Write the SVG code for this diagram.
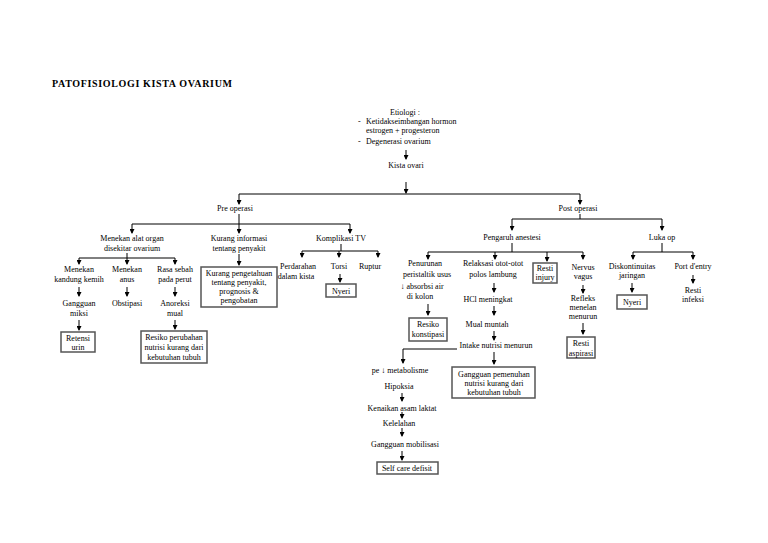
<svg xmlns="http://www.w3.org/2000/svg" width="768" height="543" viewBox="0 0 768 543">
<defs>
<marker id="ah" markerWidth="5" markerHeight="5" refX="4" refY="2.5" orient="auto" markerUnits="userSpaceOnUse"><path d="M0,0 L5,2.5 L0,5 z" fill="#000"/></marker>
<style>
text{font-family:"Liberation Serif","Times New Roman",serif;font-size:8px;fill:#000;text-anchor:middle}
.l{text-anchor:start}
.title{font-size:10px;font-weight:bold;text-anchor:start}
.box{fill:#fff;stroke:#555;stroke-width:1.5}
.c line,.c polyline{stroke:#000;stroke-width:1;fill:none}
.a{marker-end:url(#ah)}
</style>
</defs>
<rect width="768" height="543" fill="#fff"/>
<text class="title" x="52" y="87" textLength="180">PATOFISIOLOGI KISTA OVARIUM</text>

<g class="c" id="connectors">
<line class="a" x1="406" y1="150" x2="406" y2="159"/>
<line class="a" x1="406" y1="182" x2="406" y2="193"/>
<line x1="239" y1="194" x2="580" y2="194"/>
<line class="a" x1="239" y1="194" x2="239" y2="204"/>
<line class="a" x1="580" y1="194" x2="580" y2="204"/>
<line x1="239" y1="214" x2="239" y2="224"/>
<line x1="132" y1="224" x2="350" y2="224"/>
<line class="a" x1="132" y1="224" x2="132" y2="233"/>
<line class="a" x1="239" y1="224" x2="239" y2="233"/>
<line class="a" x1="350" y1="224" x2="350" y2="233"/>
<line x1="127" y1="253" x2="127" y2="258"/>
<line x1="79" y1="258" x2="175" y2="258"/>
<line class="a" x1="79" y1="258" x2="79" y2="264"/>
<line class="a" x1="127" y1="258" x2="127" y2="264"/>
<line class="a" x1="175" y1="258" x2="175" y2="264"/>
<line class="a" x1="79" y1="287" x2="79" y2="296"/>
<line class="a" x1="127" y1="287" x2="127" y2="296"/>
<line class="a" x1="175" y1="287" x2="175" y2="296"/>
<line class="a" x1="79" y1="320" x2="79" y2="330"/>
<line class="a" x1="175" y1="320" x2="175" y2="329"/>
<line class="a" x1="239" y1="254" x2="239" y2="265"/>
<line x1="341" y1="244" x2="341" y2="251"/>
<line x1="302" y1="251" x2="378" y2="251"/>
<line class="a" x1="302" y1="251" x2="302" y2="257"/>
<line class="a" x1="339" y1="251" x2="339" y2="257"/>
<line class="a" x1="378" y1="251" x2="378" y2="257"/>
<line class="a" x1="340" y1="274" x2="340" y2="282"/>
<line x1="580" y1="214" x2="580" y2="219"/>
<line x1="512" y1="219" x2="662" y2="219"/>
<line class="a" x1="512" y1="219" x2="512" y2="230"/>
<line class="a" x1="662" y1="219" x2="662" y2="230"/>
<line x1="512" y1="243" x2="512" y2="252"/>
<line x1="428" y1="252" x2="583" y2="252"/>
<line class="a" x1="428" y1="252" x2="428" y2="259"/>
<line class="a" x1="495" y1="252" x2="495" y2="259"/>
<line class="a" x1="547" y1="252" x2="547" y2="261"/>
<line class="a" x1="583" y1="252" x2="583" y2="259"/>
<line x1="662" y1="243" x2="662" y2="252"/>
<line x1="633" y1="252" x2="693" y2="252"/>
<line class="a" x1="633" y1="252" x2="633" y2="259"/>
<line class="a" x1="693" y1="252" x2="693" y2="259"/>
<line class="a" x1="428" y1="304" x2="428" y2="315"/>
<line class="a" x1="494" y1="283" x2="494" y2="292"/>
<line class="a" x1="494" y1="306" x2="494" y2="315"/>
<line class="a" x1="494" y1="331" x2="494" y2="340"/>
<polyline class="a" points="457,349 403,349 403,363"/>
<line class="a" x1="494" y1="352" x2="494" y2="364"/>
<line class="a" x1="402" y1="393" x2="402" y2="401"/>
<line class="a" x1="402" y1="412" x2="402" y2="418"/>
<line class="a" x1="402" y1="428" x2="402" y2="436"/>
<line class="a" x1="402" y1="451" x2="402" y2="460"/>
<line class="a" x1="583" y1="285" x2="583" y2="293"/>
<line class="a" x1="583" y1="323" x2="583" y2="334"/>
<line class="a" x1="632" y1="283" x2="632" y2="292"/>
<line class="a" x1="693" y1="275" x2="693" y2="283"/>
</g>

<g id="etiologi">
<text x="405" y="115">Etiologi :</text>
<text class="l" x="358" y="124">-</text><text class="l" x="366" y="124">Ketidakseimbangan hormon</text>
<text class="l" x="366" y="133">estrogen + progesteron</text>
<text class="l" x="358" y="144">-</text><text class="l" x="366" y="144">Degenerasi ovarium</text>
</g>
<g id="kista"><text x="406" y="168">Kista ovari</text></g>
<g id="pre"><text x="235" y="211">Pre operasi</text></g>
<g id="post"><text x="578" y="211">Post operasi</text></g>
<g id="menekan"><text x="132" y="241">Menekan alat organ</text><text x="132" y="251">disekitar ovarium</text></g>
<g id="kurang-info"><text x="239" y="241">Kurang informasi</text><text x="239" y="251">tentang penyakit</text></g>
<g id="komplikasi"><text x="341" y="241">Komplikasi TV</text></g>
<g id="kandung"><text x="79" y="272">Menekan</text><text x="79" y="282">kandung kemih</text></g>
<g id="anus"><text x="127" y="272">Menekan</text><text x="127" y="282">anus</text></g>
<g id="sebah"><text x="175" y="272">Rasa sebah</text><text x="175" y="282">pada perut</text></g>
<g id="miksi"><text x="79" y="306">Gangguan</text><text x="79" y="316">miksi</text></g>
<g id="obstipasi"><text x="127" y="306">Obstipasi</text></g>
<g id="anoreksi"><text x="175" y="306">Anoreksi</text><text x="175" y="316">mual</text></g>
<g id="retensi"><rect class="box" x="61" y="332" width="34" height="20"/><text x="78" y="341">Retensi</text><text x="78" y="350">urin</text></g>
<g id="resiko-nutrisi"><rect class="box" x="141" y="331" width="66" height="32"/><text x="174" y="340">Resiko perubahan</text><text x="174" y="350">nutrisi kurang dari</text><text x="174" y="360">kebutuhan tubuh</text></g>
<g id="kurang-peng"><rect class="box" x="201" y="267" width="76" height="40"/><text x="239" y="276">Kurang pengetahuan</text><text x="239" y="285">tentang penyakit,</text><text x="239" y="294">prognosis &amp;</text><text x="239" y="303">pengobatan</text></g>
<g id="perdarahan"><text x="298" y="269">Perdarahan</text><text x="296" y="279">dalam kista</text></g>
<g id="torsi"><text x="339" y="269">Torsi</text></g>
<g id="ruptur"><text x="370" y="269">Ruptur</text></g>
<g id="nyeri1"><rect class="box" x="326" y="284" width="30" height="13"/><text x="341" y="294">Nyeri</text></g>
<g id="anestesi"><text x="512" y="240">Pengaruh anestesi</text></g>
<g id="luka"><text x="662" y="240">Luka op</text></g>
<g id="penurunan"><text x="425" y="266">Penurunan</text><text x="427" y="277">peristaltik usus</text></g>
<g id="absorbsi"><text x="422" y="289">↓ absorbsi air</text><text x="420" y="299">di kolon</text></g>
<g id="konstipasi"><rect class="box" x="409" y="318" width="38" height="23"/><text x="428" y="327">Resiko</text><text x="428" y="337">konstipasi</text></g>
<g id="relaksasi"><text x="493" y="266">Relaksasi otot-otot</text><text x="493" y="277">polos lambung</text></g>
<g id="hcl"><text x="488" y="302">HCl meningkat</text></g>
<g id="mual"><text x="487" y="327">Mual muntah</text></g>
<g id="intake"><text x="496" y="348">Intake nutrisi menurun</text></g>
<g id="gangguan-nutrisi"><rect class="box" x="452" y="367" width="83" height="31"/><text x="494" y="377">Gangguan pemenuhan</text><text x="494" y="386">nutrisi kurang dari</text><text x="494" y="395">kebutuhan tubuh</text></g>
<g id="metabolisme"><text x="400" y="373">pe ↓ metabolisme</text></g>
<g id="hipoksia"><text x="399" y="389">Hipoksia</text></g>
<g id="laktat"><text x="402" y="411">Kenaikan asam laktat</text></g>
<g id="kelelahan"><text x="399" y="426">Kelelahan</text></g>
<g id="mobilisasi"><text x="405" y="447">Gangguan mobilisasi</text></g>
<g id="selfcare"><rect class="box" x="377" y="462" width="61" height="12"/><text x="407" y="471">Self care defisit</text></g>
<g id="injury"><rect class="box" x="533" y="263" width="24" height="20"/><text x="545" y="271">Resti</text><text x="545" y="280">injury</text></g>
<g id="vagus"><text x="583" y="270">Nervus</text><text x="583" y="279">vagus</text></g>
<g id="refleks"><text x="583" y="301">Refleks</text><text x="583" y="310">menelan</text><text x="583" y="319">menurun</text></g>
<g id="aspirasi"><rect class="box" x="567" y="337" width="28" height="21"/><text x="581" y="346">Resti</text><text x="581" y="356">aspirasi</text></g>
<g id="diskontinuitas"><text x="632" y="269">Diskontinuitas</text><text x="632" y="278">jaringan</text></g>
<g id="nyeri2"><rect class="box" x="617" y="295" width="30" height="14"/><text x="632" y="305">Nyeri</text></g>
<g id="portentry"><text x="693" y="269">Port d'entry</text></g>
<g id="infeksi"><text x="693" y="293">Resti</text><text x="693" y="302">infeksi</text></g>
</svg>
